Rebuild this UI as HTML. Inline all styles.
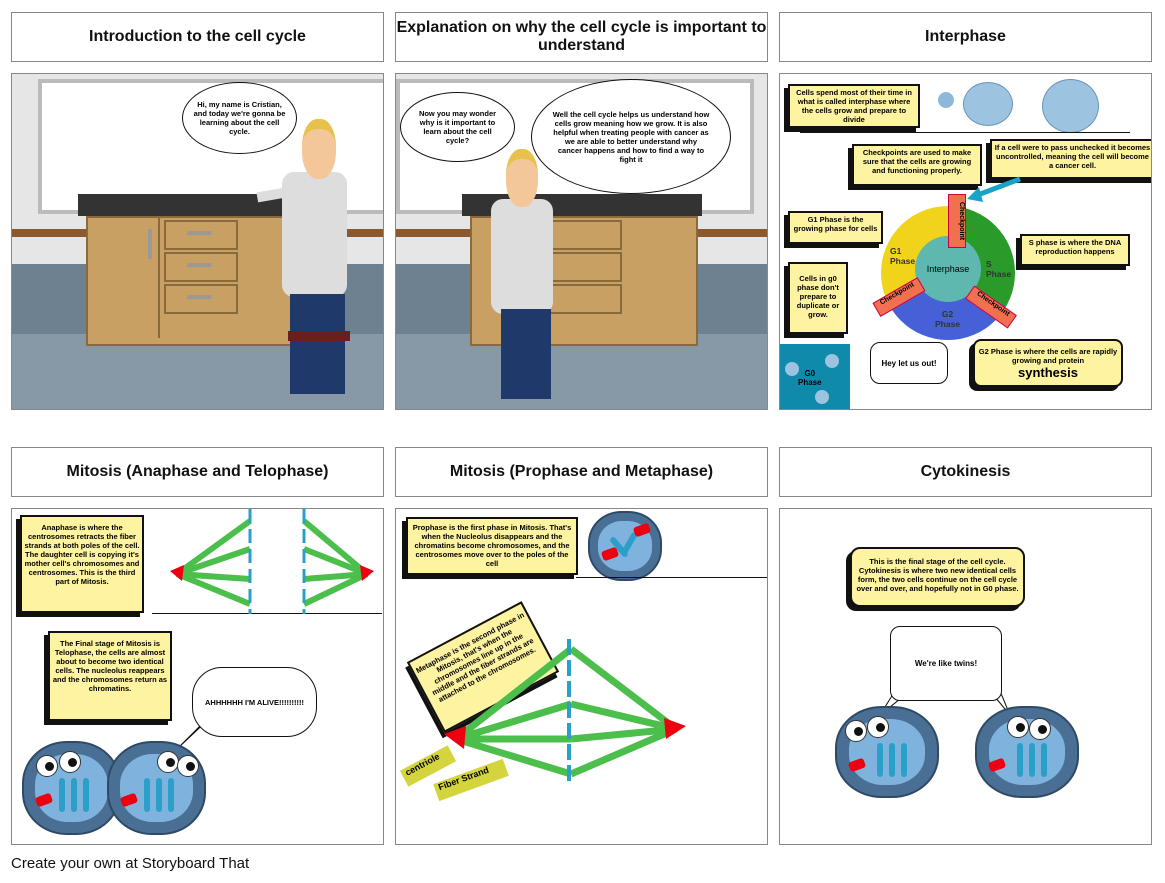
<!DOCTYPE html>
<html><head><meta charset="utf-8"><style>
body{margin:0;width:1165px;height:883px;background:#fff;font-family:"Liberation Sans",sans-serif;position:relative;overflow:hidden}
.t{position:absolute;border:1px solid #888;background:#fff;display:flex;align-items:center;justify-content:center;text-align:center;font-weight:bold;font-size:16px;color:#111;box-sizing:border-box;line-height:1.15}
.p{position:absolute;border:1px solid #888;box-sizing:border-box;overflow:hidden;background:#fff}
.a{position:absolute}
.note{position:absolute;background:#fdf3a0;border:2px solid #111;box-shadow:-4px 4px 0 #111;font-size:7.5px;font-weight:bold;text-align:center;line-height:1.2;padding:2px;box-sizing:border-box;overflow:hidden}
.bub{position:absolute;background:#fff;border:1px solid #111;border-radius:50%;font-size:7.5px;font-weight:bold;text-align:center;display:flex;align-items:center;justify-content:center;line-height:1.2;box-sizing:border-box;padding:10px}
.box{position:absolute;background:#fff;border:1px solid #111;border-radius:10px;font-size:8px;font-weight:bold;display:flex;align-items:center;justify-content:center;text-align:center;box-sizing:border-box}
.cell{position:absolute;border-radius:45%;background:#4a6f95;border:2px solid #2e4a66}
.cell .in{position:absolute;left:12%;top:12%;width:76%;height:76%;border-radius:45%;background:#7fb2dc}
.eye{position:absolute;width:20px;height:20px;border-radius:50%;background:#fff;border:1px solid #333}
.eye:after{content:"";position:absolute;left:8px;top:6px;width:9px;height:9px;border-radius:50%;background:#111}
.chr{position:absolute;width:6px;height:34px;background:#2aa0c8;border-radius:3px}
.red{position:absolute;width:16px;height:10px;background:#e01;border-radius:3px;transform:rotate(-20deg)}
</style></head><body>
<div class="t" style="left:11px;top:12px;width:373px;height:50px">Introduction to the cell cycle</div>
<div class="t" style="left:395px;top:12px;width:373px;height:50px">Explanation on why the cell cycle is important to understand</div>
<div class="t" style="left:779px;top:12px;width:373px;height:50px">Interphase</div>
<div class="t" style="left:11px;top:447px;width:373px;height:50px">Mitosis (Anaphase and Telophase)</div>
<div class="t" style="left:395px;top:447px;width:373px;height:50px">Mitosis (Prophase and Metaphase)</div>
<div class="t" style="left:779px;top:447px;width:373px;height:50px">Cytokinesis</div>

<!-- Panel 1 -->
<div class="p" style="left:11px;top:73px;width:373px;height:337px;background:#e6e6e6">
<div class="a" style="left:26px;top:5px;width:350px;height:127px;background:#fff;border:4px solid #bbb"></div>
<div class="a" style="left:0;top:155px;width:373px;height:8px;background:#8a5a2e"></div>
<div class="a" style="left:0;top:190px;width:373px;height:147px;background:#6e8190"></div>
<div class="a" style="left:0;top:260px;width:373px;height:77px;background:#8799a6"></div>
<div class="a" style="left:66px;top:120px;width:240px;height:22px;background:#333"></div>
<div class="a" style="left:74px;top:142px;width:224px;height:126px;background:#c9a063;border:2px solid #8a6a3a"></div>
<div class="a" style="left:76px;top:144px;width:70px;height:120px;border-right:2px solid #8a6a3a"></div>
<div class="a" style="left:136px;top:155px;width:4px;height:30px;background:#999"></div>
<div class="a" style="left:152px;top:146px;width:70px;height:26px;border:2px solid #8a6a3a"></div>
<div class="a" style="left:152px;top:178px;width:70px;height:26px;border:2px solid #8a6a3a"></div>
<div class="a" style="left:152px;top:210px;width:70px;height:26px;border:2px solid #8a6a3a"></div>
<div class="a" style="left:175px;top:157px;width:24px;height:4px;background:#999"></div>
<div class="a" style="left:175px;top:189px;width:24px;height:4px;background:#999"></div>
<div class="a" style="left:175px;top:221px;width:24px;height:4px;background:#999"></div>
<div class="bub" style="left:170px;top:8px;width:115px;height:72px">Hi, my name is Cristian, and today we're gonna be learning about the cell cycle.</div>
<div class="a" style="left:245px;top:115px;width:40px;height:10px;background:#ddd;transform:rotate(-10deg)"></div>
<div class="a" style="left:270px;top:98px;width:65px;height:125px;background:#ddd;border-radius:12px"></div>
<div class="a" style="left:290px;top:45px;width:34px;height:50px;background:#f3c79a;border-radius:45%;border-top:10px solid #e8c04c"></div>
<div class="a" style="left:278px;top:220px;width:55px;height:100px;background:#1f3a6a"></div>
<div class="a" style="left:276px;top:255px;width:62px;height:10px;background:#6a1f1f;top:257px"></div>
</div>

<!-- Panel 2 -->
<div class="p" style="left:395px;top:73px;width:373px;height:337px;background:#e6e6e6">
<div class="a" style="left:0;top:5px;width:350px;height:127px;background:#fff;border:4px solid #bbb"></div>
<div class="a" style="left:0;top:155px;width:373px;height:8px;background:#8a5a2e"></div>
<div class="a" style="left:0;top:190px;width:373px;height:147px;background:#6e8190"></div>
<div class="a" style="left:0;top:260px;width:373px;height:77px;background:#8799a6"></div>
<div class="a" style="left:66px;top:120px;width:240px;height:22px;background:#333"></div>
<div class="a" style="left:74px;top:142px;width:224px;height:126px;background:#c9a063;border:2px solid #8a6a3a"></div>
<div class="a" style="left:152px;top:146px;width:70px;height:26px;border:2px solid #8a6a3a"></div>
<div class="a" style="left:152px;top:178px;width:70px;height:26px;border:2px solid #8a6a3a"></div>
<div class="a" style="left:152px;top:210px;width:70px;height:26px;border:2px solid #8a6a3a"></div>
<div class="bub" style="left:4px;top:18px;width:115px;height:70px">Now you may wonder why is it important to learn about the cell cycle?</div>
<div class="bub" style="left:135px;top:5px;width:200px;height:115px;padding:20px">Well the cell cycle helps us understand how cells grow meaning how we grow. It is also helpful when treating people with cancer as we are able to better understand why cancer happens and how to find a way to fight it</div>
<div class="a" style="left:95px;top:125px;width:62px;height:115px;background:#ddd;border-radius:12px"></div>
<div class="a" style="left:110px;top:75px;width:32px;height:48px;background:#f3c79a;border-radius:45%;border-top:10px solid #e8c04c"></div>
<div class="a" style="left:105px;top:235px;width:50px;height:90px;background:#1f3a6a"></div>
</div>

<!-- Panel 3 -->
<div class="p" style="left:779px;top:73px;width:373px;height:337px">
<div class="note" style="left:8px;top:10px;width:132px;height:44px">Cells spend most of their time in what is called interphase where the cells grow and prepare to divide</div>
<div class="a" style="left:158px;top:18px;width:16px;height:16px;border-radius:50%;background:#8fb8d8"></div>
<div class="a" style="left:183px;top:8px;width:48px;height:42px;border-radius:50%;background:#9cc3e0;border:1px solid #6a95b8"></div>
<div class="a" style="left:262px;top:5px;width:55px;height:52px;border-radius:50%;background:#9cc3e0;border:1px solid #6a95b8"></div>
<div class="a" style="left:20px;top:58px;width:330px;height:1px;background:#111"></div>
<div class="note" style="left:72px;top:70px;width:130px;height:42px">Checkpoints are used to make sure that the cells are growing and functioning properly.</div>
<div class="note" style="left:210px;top:65px;width:165px;height:40px">If a cell were to pass unchecked it becomes uncontrolled, meaning the cell will become a cancer cell.</div>
<svg class="a" style="left:185px;top:100px" width="60" height="30"><line x1="55" y1="5" x2="10" y2="22" stroke="#1aa3c8" stroke-width="5"/><path d="M2 25 L14 13 L18 28Z" fill="#1aa3c8"/></svg>
<div class="note" style="left:8px;top:137px;width:95px;height:33px">G1 Phase is the growing phase for cells</div>
<div class="a" style="left:101px;top:132px;width:134px;height:134px;border-radius:50%;background:conic-gradient(#2a9a2a 0 120deg,#4660d8 120deg 240deg,#f1d31c 240deg 360deg)"></div>
<div class="a" style="left:135px;top:162px;width:66px;height:66px;border-radius:50%;background:#5fb8b0;font-size:9px;display:flex;align-items:center;justify-content:center">Interphase</div>
<div class="a" style="left:110px;top:172px;font-size:8.5px;font-weight:bold;color:#333">G1<br>Phase</div>
<div class="a" style="left:206px;top:185px;font-size:8.5px;font-weight:bold;color:#333">S<br>Phase</div>
<div class="a" style="left:155px;top:235px;font-size:8.5px;font-weight:bold;color:#333;text-align:center">G2<br>Phase</div>
<div class="a" style="left:168px;top:120px;width:16px;height:52px;background:#f07050;border:1px solid #c04;font-size:7px;font-weight:bold;writing-mode:vertical-rl;text-align:center">Checkpoint</div>
<div class="a" style="left:93px;top:215px;width:50px;height:14px;background:#f07050;border:1px solid #c04;font-size:7px;font-weight:bold;transform:rotate(-30deg);text-align:center">Checkpoint</div>
<div class="a" style="left:185px;top:225px;width:50px;height:14px;background:#f07050;border:1px solid #c04;font-size:7px;font-weight:bold;transform:rotate(35deg);text-align:center">Checkpoint</div>
<div class="note" style="left:240px;top:160px;width:110px;height:32px">S phase is where the DNA reproduction happens</div>
<div class="note" style="left:8px;top:188px;width:60px;height:72px;padding-top:10px">Cells in g0 phase don't prepare to duplicate or grow.</div>
<div class="a" style="left:-5px;top:270px;width:75px;height:67px;background:#0f8aab"></div>
<div class="a" style="left:5px;top:288px;width:14px;height:14px;border-radius:50%;background:#9cc3e0"></div>
<div class="a" style="left:45px;top:280px;width:14px;height:14px;border-radius:50%;background:#9cc3e0"></div>
<div class="a" style="left:35px;top:316px;width:14px;height:14px;border-radius:50%;background:#9cc3e0"></div>
<div class="a" style="left:18px;top:295px;font-size:8px;font-weight:bold;text-align:center">G0<br>Phase</div>
<div class="box" style="left:90px;top:268px;width:78px;height:42px">Hey let us out!</div>
<div class="note" style="left:193px;top:265px;width:150px;height:48px;border-radius:8px;padding-top:6px">G2 Phase is where the cells are rapidly growing and protein<br><span style="font-size:13px">synthesis</span></div>
</div>

<!-- Panel 4 -->
<div class="p" style="left:11px;top:508px;width:373px;height:337px">
<div class="note" style="left:8px;top:6px;width:124px;height:98px;padding-top:6px">Anaphase is where the centrosomes retracts the fiber strands at both poles of the cell. The daughter cell is copying it's mother cell's chromosomes and centrosomes. This is the third part of Mitosis.</div>
<div class="a" style="left:140px;top:104px;width:230px;height:1px;background:#111"></div>
<svg class="a" style="left:150px;top:0" width="220" height="110"><g stroke="#4cbe4c" stroke-width="6"><line x1="15" y1="65" x2="88" y2="12"/><line x1="15" y1="65" x2="88" y2="40"/><line x1="15" y1="65" x2="88" y2="70"/><line x1="15" y1="65" x2="88" y2="95"/><line x1="205" y1="65" x2="142" y2="12"/><line x1="205" y1="65" x2="142" y2="40"/><line x1="205" y1="65" x2="142" y2="70"/><line x1="205" y1="65" x2="142" y2="95"/></g><g stroke="#2aa0c8" stroke-width="3" stroke-dasharray="14 6"><line x1="88" y1="0" x2="88" y2="105"/><line x1="142" y1="0" x2="142" y2="105"/></g><path d="M8 62 L22 56 L20 72 Z M212 62 L198 56 L200 72Z" fill="#e01"/></svg>
<div class="note" style="left:36px;top:122px;width:124px;height:90px;padding-top:6px">The Final stage of Mitosis is Telophase, the cells are almost about to become two identical cells. The nucleolus reappears and the chromosomes return as chromatins.</div>
<svg class="a" style="left:160px;top:205px" width="50" height="40"><path d="M40 2 L5 35 L30 10Z" fill="#fff" stroke="#111"/></svg>
<div class="bub" style="left:180px;top:158px;width:125px;height:70px;border-radius:30px">AHHHHHH I'M ALIVE!!!!!!!!!!</div>
<div class="cell" style="left:10px;top:232px;width:95px;height:90px"><div class="in"></div><div class="chr" style="left:35px;top:35px"></div><div class="chr" style="left:47px;top:35px"></div><div class="chr" style="left:59px;top:35px"></div><div class="red" style="left:12px;top:52px"></div><div class="eye" style="left:12px;top:12px"></div><div class="eye" style="left:35px;top:8px"></div></div>
<div class="cell" style="left:95px;top:232px;width:95px;height:90px"><div class="in"></div><div class="chr" style="left:35px;top:35px"></div><div class="chr" style="left:47px;top:35px"></div><div class="chr" style="left:59px;top:35px"></div><div class="red" style="left:12px;top:52px"></div><div class="eye" style="left:48px;top:8px"></div><div class="eye" style="left:68px;top:12px"></div></div>
</div>

<!-- Panel 5 -->
<div class="p" style="left:395px;top:508px;width:373px;height:337px">
<div class="note" style="left:10px;top:8px;width:172px;height:58px;padding-top:4px">Prophase is the first phase in Mitosis. That's when the Nucleolus disappears and the chromatins become chromosomes, and the centrosomes move over to the poles of the cell</div>
<div class="cell" style="left:192px;top:2px;width:70px;height:66px"><div class="in"></div><div class="chr" style="left:36px;top:18px;height:26px;transform:rotate(30deg)"></div><div class="chr" style="left:26px;top:22px;height:24px;transform:rotate(-40deg)"></div><div class="red" style="left:12px;top:36px"></div><div class="red" style="left:44px;top:12px"></div></div>
<div class="a" style="left:180px;top:68px;width:193px;height:1px;background:#111"></div>
<div class="note" style="left:22px;top:118px;width:130px;height:80px;transform:rotate(-28deg);padding-top:6px">Metaphase is the second phase in Mitosis, that's when the chromosomes line up in the middle and the fiber strands are attached to the chromosomes.</div>
<svg class="a" style="left:40px;top:125px" width="260" height="160"><g stroke="#4cbe4c" stroke-width="7"><line x1="20" y1="105" x2="135" y2="15"/><line x1="20" y1="105" x2="135" y2="70"/><line x1="20" y1="105" x2="135" y2="105"/><line x1="20" y1="105" x2="135" y2="140"/><line x1="240" y1="95" x2="135" y2="15"/><line x1="240" y1="95" x2="135" y2="70"/><line x1="240" y1="95" x2="135" y2="105"/><line x1="240" y1="95" x2="135" y2="140"/></g><line x1="133" y1="5" x2="133" y2="150" stroke="#2aa0c8" stroke-width="4" stroke-dasharray="16 5"/><path d="M8 100 L30 92 L28 115Z M250 92 L228 84 L230 105Z" fill="#e01"/></svg>
<div class="a" style="left:5px;top:248px;width:50px;height:18px;background:#d4d43c;transform:rotate(-28deg);font-size:9px;font-weight:bold;padding-left:4px">centriole</div>
<div class="a" style="left:38px;top:262px;width:70px;height:18px;background:#d4d43c;transform:rotate(-20deg);font-size:9px;font-weight:bold;padding-left:4px">Fiber Strand</div>
</div>

<!-- Panel 6 -->
<div class="p" style="left:779px;top:508px;width:373px;height:337px">
<div class="note" style="left:70px;top:38px;width:175px;height:60px;border-radius:10px;padding-top:8px">This is the final stage of the cell cycle. Cytokinesis is where two new identical cells form, the two cells continue on the cell cycle over and over, and hopefully not in G0 phase.</div>
<svg class="a" style="left:95px;top:180px" width="150" height="30"><path d="M20 2 L5 26 L35 2Z M115 2 L135 26 L125 2Z" fill="#fff" stroke="#111"/></svg>
<div class="box" style="left:110px;top:117px;width:112px;height:75px">We're like twins!</div>
<div class="cell" style="left:55px;top:197px;width:100px;height:88px"><div class="in"></div><div class="chr" style="left:40px;top:35px"></div><div class="chr" style="left:52px;top:35px"></div><div class="chr" style="left:64px;top:35px"></div><div class="red" style="left:12px;top:52px"></div><div class="eye" style="left:8px;top:12px"></div><div class="eye" style="left:30px;top:8px"></div></div>
<div class="cell" style="left:195px;top:197px;width:100px;height:88px"><div class="in"></div><div class="chr" style="left:40px;top:35px"></div><div class="chr" style="left:52px;top:35px"></div><div class="chr" style="left:64px;top:35px"></div><div class="red" style="left:12px;top:52px"></div><div class="eye" style="left:30px;top:8px"></div><div class="eye" style="left:52px;top:10px"></div></div>
</div>

<div class="a" style="left:11px;top:855px;font-size:15px;color:#111">Create your own at Storyboard That</div>
</body></html>
